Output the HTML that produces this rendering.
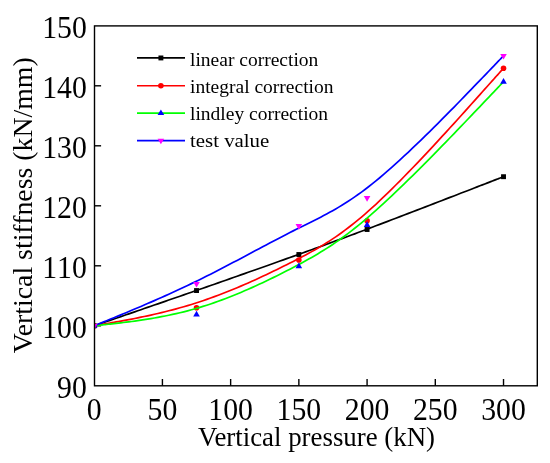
<!DOCTYPE html>
<html><head><meta charset="utf-8"><style>
html,body{margin:0;padding:0;background:#fff;width:550px;height:463px;overflow:hidden}
svg{display:block}
text{font-family:"Liberation Serif","Times New Roman",serif;fill:#000}
.t{font-size:31px;font-kerning:none}
.a{font-size:28px}
.l{font-size:19.5px}
</style></head><body>
<svg width="550" height="463" viewBox="0 0 550 463">
<defs><clipPath id="pc"><rect x="94.4" y="25" width="443.5" height="361.5"/></clipPath></defs>
<line x1="162.42" y1="385.8" x2="162.42" y2="379.0" stroke="#000" stroke-width="1.4"/>
<line x1="230.64" y1="385.8" x2="230.64" y2="379.0" stroke="#000" stroke-width="1.4"/>
<line x1="298.86" y1="385.8" x2="298.86" y2="379.0" stroke="#000" stroke-width="1.4"/>
<line x1="367.08" y1="385.8" x2="367.08" y2="379.0" stroke="#000" stroke-width="1.4"/>
<line x1="435.30" y1="385.8" x2="435.30" y2="379.0" stroke="#000" stroke-width="1.4"/>
<line x1="503.52" y1="385.8" x2="503.52" y2="379.0" stroke="#000" stroke-width="1.4"/>
<line x1="94.5" y1="325.80" x2="101.1" y2="325.80" stroke="#000" stroke-width="1.4"/>
<line x1="94.5" y1="265.80" x2="101.1" y2="265.80" stroke="#000" stroke-width="1.4"/>
<line x1="94.5" y1="205.80" x2="101.1" y2="205.80" stroke="#000" stroke-width="1.4"/>
<line x1="94.5" y1="145.80" x2="101.1" y2="145.80" stroke="#000" stroke-width="1.4"/>
<line x1="94.5" y1="85.80" x2="101.1" y2="85.80" stroke="#000" stroke-width="1.4"/>
<g clip-path="url(#pc)">
<polyline points="94.20,325.80 94.20,325.80 94.21,325.80 94.22,325.79 94.26,325.78 94.31,325.76 94.39,325.73 94.51,325.69 94.66,325.64 94.86,325.57 95.10,325.49 95.40,325.39 95.75,325.26 96.18,325.12 96.67,324.95 97.24,324.75 97.88,324.53 98.62,324.28 99.45,323.99 100.37,323.67 101.40,323.32 102.53,322.93 103.78,322.50 105.14,322.03 106.63,321.52 108.25,320.96 110.01,320.35 111.90,319.70 113.94,319.00 116.11,318.25 118.42,317.46 120.85,316.62 123.40,315.74 126.06,314.82 128.84,313.86 131.72,312.87 134.70,311.84 137.77,310.78 140.93,309.69 144.18,308.57 147.50,307.42 150.89,306.25 154.35,305.06 157.87,303.84 161.45,302.60 165.07,301.34 168.74,300.07 172.46,298.79 176.20,297.49 179.97,296.18 183.77,294.86 187.59,293.53 191.42,292.20 195.25,290.87 199.09,289.53 202.92,288.19 206.76,286.85 210.59,285.52 214.41,284.18 218.22,282.85 222.02,281.52 225.81,280.19 229.59,278.86 233.35,277.54 237.10,276.23 240.82,274.92 244.53,273.61 248.21,272.32 251.87,271.03 255.50,269.75 259.10,268.47 262.67,267.21 266.21,265.95 269.72,264.71 273.19,263.48 276.62,262.26 280.02,261.05 283.37,259.86 286.69,258.67 289.95,257.51 293.18,256.36 296.35,255.22 299.48,254.09 302.58,252.98 305.64,251.88 308.68,250.78 311.69,249.69 314.69,248.60 317.68,247.52 320.67,246.43 323.65,245.34 326.65,244.25 329.65,243.14 332.67,242.03 335.71,240.91 338.78,239.78 341.88,238.63 345.03,237.46 348.21,236.27 351.44,235.06 354.73,233.83 358.08,232.57 361.50,231.29 364.98,229.97 368.54,228.63 372.18,227.25 375.91,225.83 379.73,224.38 383.65,222.89 387.64,221.37 391.71,219.82 395.83,218.24 400.01,216.64 404.22,215.03 408.46,213.40 412.72,211.76 416.98,210.13 421.24,208.49 425.48,206.86 429.70,205.23 433.88,203.62 438.01,202.03 442.08,200.46 446.09,198.91 450.01,197.40 453.84,195.92 457.57,194.48 461.19,193.08 464.68,191.73 468.04,190.43 471.25,189.19 474.31,188.00 477.20,186.88 479.92,185.83 482.44,184.86 484.78,183.95 486.94,183.12 488.93,182.35 490.75,181.64 492.41,181.00 493.93,180.41 495.29,179.88 496.53,179.41 497.63,178.98 498.61,178.60 499.47,178.27 500.23,177.97 500.89,177.72 501.45,177.50 501.92,177.32 502.32,177.16 502.65,177.04 502.91,176.94 503.11,176.86 503.26,176.80 503.37,176.76 503.44,176.73 503.49,176.71 503.51,176.70 503.52,176.70 503.52,176.70" fill="none" stroke="#000" stroke-width="1.7" stroke-linejoin="round"/>
<rect x="91.75" y="323.35" width="4.9" height="4.9" fill="#000"/>
<rect x="194.08" y="288.10" width="4.9" height="4.9" fill="#000"/>
<rect x="296.41" y="252.07" width="4.9" height="4.9" fill="#000"/>
<rect x="364.63" y="227.05" width="4.9" height="4.9" fill="#000"/>
<rect x="501.07" y="174.25" width="4.9" height="4.9" fill="#000"/>
<polyline points="94.20,325.80 94.20,325.80 94.21,325.80 94.22,325.80 94.26,325.79 94.31,325.78 94.39,325.77 94.51,325.75 94.66,325.72 94.86,325.68 95.10,325.64 95.40,325.59 95.75,325.53 96.18,325.45 96.67,325.37 97.24,325.27 97.88,325.15 98.62,325.02 99.45,324.88 100.37,324.71 101.40,324.53 102.53,324.33 103.78,324.12 105.14,323.88 106.63,323.61 108.25,323.33 110.01,323.02 111.90,322.69 113.94,322.33 116.11,321.94 118.42,321.53 120.85,321.09 123.40,320.62 126.06,320.13 128.84,319.60 131.72,319.05 134.70,318.46 137.77,317.85 140.93,317.20 144.18,316.52 147.50,315.80 150.89,315.06 154.35,314.27 157.87,313.46 161.45,312.61 165.07,311.72 168.74,310.79 172.46,309.83 176.20,308.83 179.97,307.79 183.77,306.71 187.59,305.60 191.42,304.44 195.25,303.24 199.09,302.00 202.92,300.72 206.76,299.40 210.59,298.04 214.41,296.65 218.22,295.22 222.02,293.77 225.81,292.29 229.59,290.78 233.35,289.25 237.10,287.69 240.82,286.11 244.53,284.52 248.21,282.91 251.87,281.29 255.50,279.65 259.10,278.00 262.67,276.35 266.21,274.69 269.72,273.02 273.19,271.35 276.62,269.69 280.02,268.02 283.37,266.36 286.69,264.70 289.95,263.06 293.18,261.42 296.35,259.79 299.48,258.17 302.58,256.55 305.64,254.92 308.68,253.28 311.69,251.62 314.69,249.93 317.68,248.21 320.67,246.45 323.65,244.64 326.65,242.78 329.65,240.87 332.67,238.88 335.71,236.83 338.78,234.70 341.88,232.48 345.03,230.17 348.21,227.77 351.44,225.26 354.73,222.64 358.08,219.91 361.50,217.05 364.98,214.06 368.54,210.94 372.18,207.68 375.91,204.26 379.73,200.69 383.65,196.97 387.64,193.11 391.71,189.12 395.83,185.01 400.01,180.81 404.22,176.52 408.46,172.17 412.72,167.75 416.98,163.30 421.24,158.81 425.48,154.31 429.70,149.81 433.88,145.33 438.01,140.87 442.08,136.45 446.09,132.09 450.01,127.80 453.84,123.59 457.57,119.48 461.19,115.48 464.68,111.60 468.04,107.87 471.25,104.29 474.31,100.88 477.20,97.65 479.92,94.62 482.44,91.79 484.78,89.17 486.94,86.76 488.93,84.54 490.75,82.50 492.41,80.64 493.93,78.95 495.29,77.42 496.53,76.04 497.63,74.81 498.61,73.71 499.47,72.75 500.23,71.90 500.89,71.17 501.45,70.54 501.92,70.00 502.32,69.56 502.65,69.20 502.91,68.91 503.11,68.68 503.26,68.51 503.37,68.39 503.44,68.31 503.49,68.26 503.51,68.23 503.52,68.22 503.52,68.22" fill="none" stroke="#f00" stroke-width="1.7" stroke-linejoin="round"/>
<circle cx="94.20" cy="325.80" r="2.8" fill="#f00"/>
<circle cx="196.53" cy="307.80" r="2.8" fill="#f00"/>
<circle cx="298.86" cy="259.98" r="2.8" fill="#f00"/>
<circle cx="367.08" cy="220.80" r="2.8" fill="#f00"/>
<circle cx="503.52" cy="68.22" r="2.8" fill="#f00"/>
<polyline points="94.20,325.80 94.20,325.80 94.21,325.80 94.22,325.80 94.26,325.79 94.31,325.79 94.39,325.78 94.51,325.77 94.66,325.75 94.86,325.73 95.10,325.70 95.40,325.67 95.75,325.63 96.18,325.58 96.67,325.53 97.24,325.47 97.88,325.39 98.62,325.31 99.45,325.22 100.37,325.12 101.40,325.01 102.53,324.88 103.78,324.74 105.14,324.59 106.63,324.43 108.25,324.25 110.01,324.06 111.90,323.85 113.94,323.62 116.11,323.38 118.42,323.12 120.85,322.84 123.40,322.53 126.06,322.21 128.84,321.85 131.72,321.48 134.70,321.07 137.77,320.64 140.93,320.18 144.18,319.68 147.50,319.15 150.89,318.59 154.35,318.00 157.87,317.37 161.45,316.70 165.07,315.99 168.74,315.24 172.46,314.44 176.20,313.61 179.97,312.73 183.77,311.80 187.59,310.83 191.42,309.80 195.25,308.73 199.09,307.60 202.92,306.43 206.76,305.21 210.59,303.94 214.41,302.63 218.22,301.27 222.02,299.88 225.81,298.45 229.59,296.99 233.35,295.49 237.10,293.97 240.82,292.42 244.53,290.84 248.21,289.24 251.87,287.62 255.50,285.99 259.10,284.34 262.67,282.67 266.21,280.99 269.72,279.31 273.19,277.62 276.62,275.92 280.02,274.23 283.37,272.53 286.69,270.84 289.95,269.15 293.18,267.47 296.35,265.80 299.48,264.13 302.58,262.46 305.64,260.79 308.68,259.10 311.69,257.39 314.69,255.66 317.68,253.90 320.67,252.10 323.65,250.26 326.65,248.37 329.65,246.43 332.67,244.43 335.71,242.36 338.78,240.22 341.88,238.01 345.03,235.72 348.21,233.33 351.44,230.85 354.73,228.28 358.08,225.59 361.50,222.80 364.98,219.89 368.54,216.85 372.18,213.69 375.91,210.40 379.73,206.96 383.65,203.38 387.64,199.68 391.71,195.87 395.83,191.95 400.01,187.94 404.22,183.87 408.46,179.72 412.72,175.53 416.98,171.31 421.24,167.06 425.48,162.80 429.70,158.55 433.88,154.31 438.01,150.10 442.08,145.93 446.09,141.81 450.01,137.77 453.84,133.80 457.57,129.93 461.19,126.16 464.68,122.52 468.04,119.00 471.25,115.64 474.31,112.43 477.20,109.39 479.92,106.54 482.44,103.88 484.78,101.42 486.94,99.15 488.93,97.06 490.75,95.15 492.41,93.40 493.93,91.81 495.29,90.37 496.53,89.07 497.63,87.91 498.61,86.88 499.47,85.98 500.23,85.18 500.89,84.49 501.45,83.90 501.92,83.40 502.32,82.98 502.65,82.64 502.91,82.37 503.11,82.15 503.26,81.99 503.37,81.88 503.44,81.80 503.49,81.75 503.51,81.73 503.52,81.72 503.52,81.72" fill="none" stroke="#0f0" stroke-width="1.7" stroke-linejoin="round"/>
<polygon points="94.20,321.99 97.50,327.71 90.90,327.71" fill="#00f"/>
<polygon points="196.53,310.71 199.83,316.43 193.23,316.43" fill="#00f"/>
<polygon points="298.86,262.47 302.16,268.19 295.56,268.19" fill="#00f"/>
<polygon points="367.08,221.37 370.38,227.09 363.78,227.09" fill="#00f"/>
<polygon points="503.52,77.91 506.82,83.63 500.22,83.63" fill="#00f"/>
<polyline points="94.20,325.80 94.20,325.80 94.21,325.80 94.22,325.79 94.26,325.78 94.31,325.75 94.39,325.72 94.51,325.67 94.66,325.61 94.86,325.53 95.10,325.43 95.40,325.31 95.75,325.16 96.18,324.99 96.67,324.79 97.24,324.55 97.88,324.29 98.62,323.99 99.45,323.65 100.37,323.27 101.40,322.85 102.53,322.38 103.78,321.87 105.14,321.31 106.63,320.70 108.25,320.03 110.01,319.31 111.90,318.53 113.94,317.70 116.11,316.80 118.42,315.86 120.85,314.85 123.40,313.79 126.06,312.69 128.84,311.53 131.72,310.32 134.70,309.06 137.77,307.76 140.93,306.42 144.18,305.03 147.50,303.59 150.89,302.12 154.35,300.61 157.87,299.06 161.45,297.47 165.07,295.85 168.74,294.19 172.46,292.51 176.20,290.79 179.97,289.04 183.77,287.26 187.59,285.46 191.42,283.63 195.25,281.77 199.09,279.90 202.92,278.00 206.76,276.08 210.59,274.15 214.41,272.21 218.22,270.25 222.02,268.28 225.81,266.31 229.59,264.34 233.35,262.36 237.10,260.39 240.82,258.41 244.53,256.45 248.21,254.49 251.87,252.54 255.50,250.61 259.10,248.69 262.67,246.78 266.21,244.90 269.72,243.04 273.19,241.21 276.62,239.40 280.02,237.63 283.37,235.88 286.69,234.17 289.95,232.50 293.18,230.87 296.35,229.28 299.48,227.72 302.58,226.19 305.64,224.68 308.68,223.18 311.69,221.68 314.69,220.18 317.68,218.67 320.67,217.14 323.65,215.58 326.65,213.99 329.65,212.36 332.67,210.68 335.71,208.94 338.78,207.14 341.88,205.27 345.03,203.32 348.21,201.28 351.44,199.14 354.73,196.91 358.08,194.56 361.50,192.10 364.98,189.51 368.54,186.79 372.18,183.93 375.91,180.92 379.73,177.76 383.65,174.44 387.64,170.98 391.71,167.39 395.83,163.69 400.01,159.88 404.22,155.99 408.46,152.02 412.72,147.99 416.98,143.91 421.24,139.80 425.48,135.67 429.70,131.53 433.88,127.40 438.01,123.28 442.08,119.20 446.09,115.17 450.01,111.19 453.84,107.29 457.57,103.48 461.19,99.77 464.68,96.17 468.04,92.70 471.25,89.37 474.31,86.20 477.20,83.19 479.92,80.37 482.44,77.74 484.78,75.30 486.94,73.06 488.93,70.99 490.75,69.09 492.41,67.36 493.93,65.79 495.29,64.36 496.53,63.08 497.63,61.93 498.61,60.91 499.47,60.01 500.23,59.23 500.89,58.54 501.45,57.96 501.92,57.46 502.32,57.05 502.65,56.71 502.91,56.44 503.11,56.23 503.26,56.07 503.37,55.96 503.44,55.88 503.49,55.83 503.51,55.81 503.52,55.80 503.52,55.80" fill="none" stroke="#00f" stroke-width="1.7" stroke-linejoin="round"/>
<polygon points="94.20,329.61 97.50,323.89 90.90,323.89" fill="#f0f"/>
<polygon points="196.53,287.61 199.83,281.89 193.23,281.89" fill="#f0f"/>
<polygon points="298.86,229.71 302.16,223.99 295.56,223.99" fill="#f0f"/>
<polygon points="367.08,201.63 370.38,195.91 363.78,195.91" fill="#f0f"/>
<polygon points="503.52,59.61 506.82,53.89 500.22,53.89" fill="#f0f"/>
</g>
<rect x="94.5" y="25.9" width="442.80" height="359.90" fill="none" stroke="#000" stroke-width="1.4"/>
<text transform="translate(94.20,419.7) scale(0.96,1)" text-anchor="middle" class="t">0</text>
<text transform="translate(162.42,419.7) scale(0.96,1)" text-anchor="middle" class="t">50</text>
<text transform="translate(230.64,419.7) scale(0.96,1)" text-anchor="middle" class="t">100</text>
<text transform="translate(298.86,419.7) scale(0.96,1)" text-anchor="middle" class="t">150</text>
<text transform="translate(367.08,419.7) scale(0.96,1)" text-anchor="middle" class="t">200</text>
<text transform="translate(435.30,419.7) scale(0.96,1)" text-anchor="middle" class="t">250</text>
<text transform="translate(503.52,419.7) scale(0.96,1)" text-anchor="middle" class="t">300</text>
<text transform="translate(86.8,397.60) scale(0.96,1)" text-anchor="end" class="t">90</text>
<text transform="translate(86.8,337.60) scale(0.96,1)" text-anchor="end" class="t">100</text>
<text transform="translate(86.8,277.60) scale(0.96,1)" text-anchor="end" class="t">110</text>
<text transform="translate(86.8,217.60) scale(0.96,1)" text-anchor="end" class="t">120</text>
<text transform="translate(86.8,157.60) scale(0.96,1)" text-anchor="end" class="t">130</text>
<text transform="translate(86.8,97.60) scale(0.96,1)" text-anchor="end" class="t">140</text>
<text transform="translate(86.8,37.60) scale(0.96,1)" text-anchor="end" class="t">150</text>
<text x="198" y="446" class="a" textLength="237" lengthAdjust="spacingAndGlyphs">Vertical pressure (kN)</text>
<text transform="translate(32,353.3) rotate(-90)" class="a" textLength="296" lengthAdjust="spacingAndGlyphs">Vertical stiffness (kN/mm)</text>
<line x1="137" y1="57.95" x2="185" y2="57.95" stroke="#000" stroke-width="1.7"/>
<rect x="158.45" y="55.50" width="4.9" height="4.9" fill="#000"/>
<text x="190" y="66.2" class="l">linear correction</text>
<line x1="137" y1="85.75" x2="185" y2="85.75" stroke="#f00" stroke-width="1.7"/>
<circle cx="160.90" cy="85.75" r="2.8" fill="#f00"/>
<text x="190" y="93.2" class="l">integral correction</text>
<line x1="137" y1="113.2" x2="185" y2="113.2" stroke="#0f0" stroke-width="1.7"/>
<polygon points="160.90,109.39 164.20,115.11 157.60,115.11" fill="#00f"/>
<text x="190" y="120.1" class="l">lindley correction</text>
<line x1="137" y1="140.55" x2="185" y2="140.55" stroke="#00f" stroke-width="1.7"/>
<polygon points="160.90,144.36 164.20,138.64 157.60,138.64" fill="#f0f"/>
<text x="190" y="146.8" class="l" textLength="79.3" lengthAdjust="spacingAndGlyphs">test value</text>
</svg>
</body></html>
